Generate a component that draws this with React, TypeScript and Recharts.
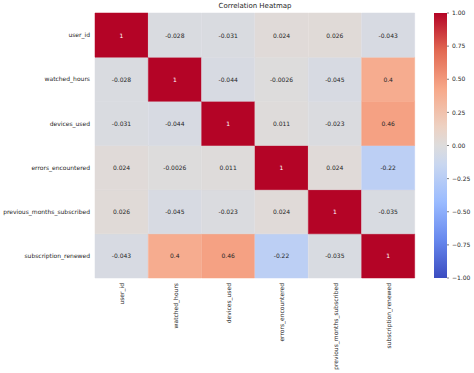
import { Bar, BarChart, Cell, LabelList, XAxis, YAxis } from "recharts";

const COLS = [
  "user_id",
  "watched_hours",
  "devices_used",
  "errors_encountered",
  "previous_months_subscribed",
  "subscription_renewed",
];

const USER_ID = [1, -0.028, -0.031, 0.024, 0.026, -0.043];
const WATCHED_HOURS = [-0.028, 1, -0.044, -0.0026, -0.045, 0.4];
const DEVICES_USED = [-0.031, -0.044, 1, 0.011, -0.023, 0.46];
const ERRORS_ENCOUNTERED = [0.024, -0.0026, 0.011, 1, 0.024, -0.22];
const PREV_MONTHS = [0.026, -0.045, -0.023, 0.024, 1, -0.035];
const SUB_RENEWED = [-0.043, 0.4, 0.46, -0.22, -0.035, 1];
const MATRIX = [USER_ID, WATCHED_HOURS, DEVICES_USED, ERRORS_ENCOUNTERED, PREV_MONTHS, SUB_RENEWED];

const CB_TICKS = [-1, -0.75, -0.5, -0.25, 0, 0.25, 0.5, 0.75, 1];

// matplotlib "coolwarm", sampled
const COOLWARM: [number, string][] = [
  [0, "#3b4cc0"],
  [1 / 7, "#6788ee"],
  [2 / 7, "#9abbff"],
  [3 / 7, "#c9d7f0"],
  [0.5, "#dddcdc"],
  [4 / 7, "#edd1c2"],
  [5 / 7, "#f7a889"],
  [6 / 7, "#e26952"],
  [1, "#b40426"],
];

const hex = (h: string) => [1, 3, 5].map((i) => parseInt(h.slice(i, i + 2), 16));

function coolwarm(v: number): string {
  const t = Math.max(0, Math.min(1, (v + 1) / 2));
  for (let i = 1; i < COOLWARM.length; i++) {
    const [t1, c1] = COOLWARM[i];
    if (t <= t1) {
      const [t0, c0] = COOLWARM[i - 1];
      const f = (t - t0) / (t1 - t0);
      const a = hex(c0);
      const b = hex(c1);
      const rgb = a.map((x, k) => Math.round(x + (b[k] - x) * f));
      return `rgb(${rgb.join(",")})`;
    }
  }
  return COOLWARM[COOLWARM.length - 1][1];
}

const fmt = (v: number) => String(Number(v.toPrecision(2)));

const TEXT = "#262626";
const FONT = "'DejaVu Sans', sans-serif";

const tableData = COLS.map((c) => {
  const row: Record<string, string | number> = { col: c };
  COLS.forEach((_, ri) => (row[`r${ri}`] = 1));
  return row;
});

const cbData = [{ name: "cb", range: [-1, 1] }];

function XTick({ x, y, payload }: any) {
  return (
    <text
      transform={`translate(${x},${y}) rotate(-90)`}
      textAnchor="end"
      dominantBaseline="central"
      fontSize={6}
      fill={TEXT}
    >
      {payload.value}
    </text>
  );
}

function cellLabel(ri: number) {
  return (p: any) => {
    const v = MATRIX[ri][p.index];
    return (
      <text
        x={p.x + p.width / 2}
        y={p.y + p.height / 2}
        textAnchor="middle"
        dominantBaseline="central"
        fontSize={6}
        fill={v > 0.7 ? "#ffffff" : TEXT}
      >
        {fmt(v)}
      </text>
    );
  };
}

export default function App() {
  return (
    <div
      style={{
        position: "absolute",
        left: 0,
        top: 0,
        width: 474,
        height: 373,
        background: "#fff",
        fontFamily: FONT,
      }}
    >
      <div
        style={{
          position: "absolute",
          left: 95,
          top: 2,
          width: 320,
          textAlign: "center",
          fontSize: 7,
          lineHeight: "9px",
          color: TEXT,
        }}
      >
        Correlation Heatmap
      </div>
      <div style={{ position: "absolute", left: 0, top: 0 }}>
        <BarChart
          width={474}
          height={373}
          data={tableData}
          margin={{ top: 13, right: 59, bottom: 0, left: 0 }}
          barCategoryGap={0}
        >
          <XAxis
            dataKey="col"
            height={95}
            interval={0}
            axisLine={false}
            tickLine={false}
            tickSize={0}
            tickMargin={5}
            tick={<XTick />}
          />
          <YAxis
            type="number"
            domain={[0, 6]}
            ticks={[0.5, 1.5, 2.5, 3.5, 4.5, 5.5]}
            tickFormatter={(v: number) => COLS[5 - Math.floor(v)]}
            width={95}
            axisLine={false}
            tickLine={false}
            tickSize={0}
            tickMargin={5}
            tick={{ fontSize: 6, fill: TEXT }}
          />
          {[5, 4, 3, 2, 1, 0].map((ri) => (
            <Bar key={ri} dataKey={`r${ri}`} stackId="m" isAnimationActive={false}>
              {COLS.map((_, ci) => (
                <Cell
                  key={ci}
                  fill={coolwarm(MATRIX[ri][ci])}
                  stroke={coolwarm(MATRIX[ri][ci])}
                  strokeWidth={0.5}
                />
              ))}
              <LabelList dataKey={`r${ri}`} content={cellLabel(ri)} />
            </Bar>
          ))}
        </BarChart>
      </div>
      <div style={{ position: "absolute", left: 434, top: 0 }}>
        <BarChart
          width={40}
          height={373}
          data={cbData}
          margin={{ top: 13, right: 0, bottom: 95, left: 0 }}
          barCategoryGap={0}
        >
          <defs>
            <linearGradient id="coolwarm" x1="0" y1="1" x2="0" y2="0">
              {COOLWARM.map(([t, c]) => (
                <stop key={t} offset={t} stopColor={c} />
              ))}
            </linearGradient>
          </defs>
          <XAxis dataKey="name" hide />
          <YAxis
            type="number"
            orientation="right"
            domain={[-1, 1]}
            ticks={CB_TICKS}
            width={27}
            axisLine={false}
            tickSize={2}
            tickMargin={3}
            tickLine={{ stroke: TEXT, strokeWidth: 0.6 }}
            tickFormatter={(v: number) => v.toFixed(2).replace("-", "\u2212")}
            tick={{ fontSize: 6, fill: TEXT }}
          />
          <Bar dataKey="range" fill="url(#coolwarm)" isAnimationActive={false} />
        </BarChart>
      </div>
    </div>
  );
}
